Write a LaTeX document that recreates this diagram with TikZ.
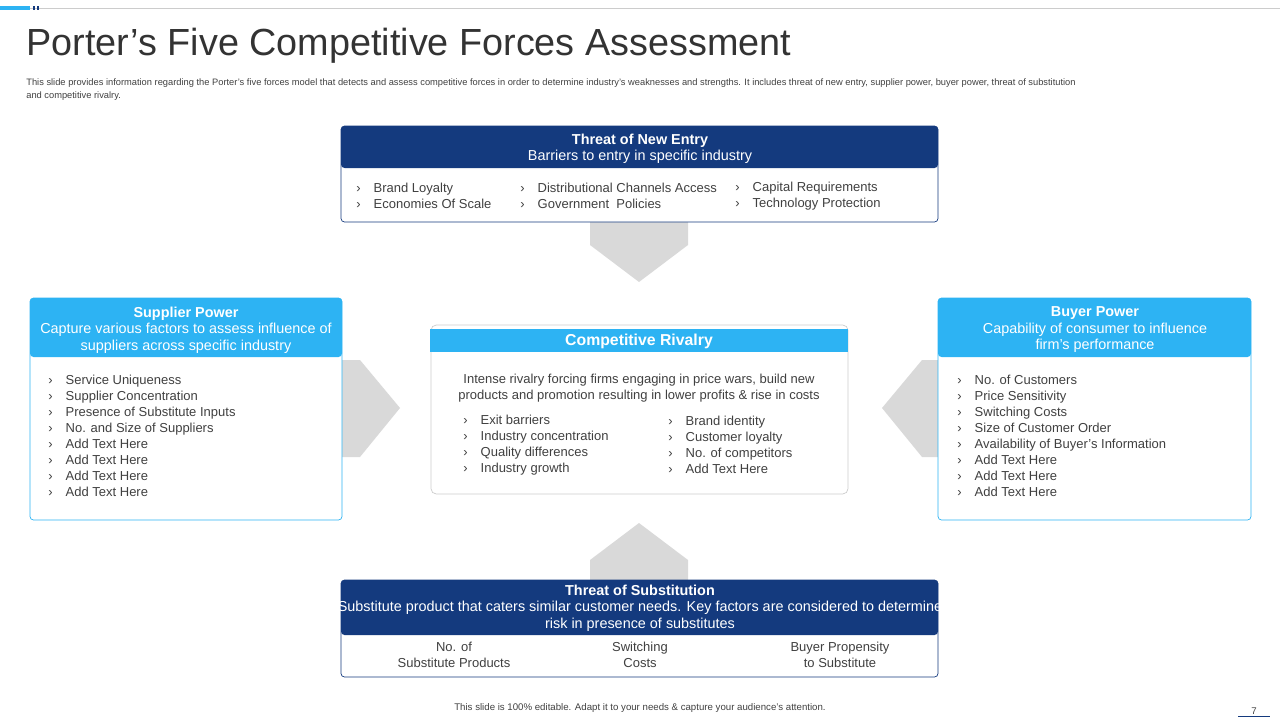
\documentclass[tikz,border=0pt]{standalone}
\usepackage{fontspec}
\setmainfont{Liberation Sans}
\definecolor{navy}{HTML}{143A7E}
\definecolor{sky}{HTML}{2DB3F3}
\definecolor{chev}{HTML}{D9D9D9}
\definecolor{txt}{HTML}{404040}
\begin{document}
\begin{tikzpicture}
	[x=0.02cm,y=-0.02cm,
	hdr/.style={font=\fontsize{8.2}{9.4}\selectfont\color{white},align=center},
	item/.style={anchor=west,font=\fontsize{7.4}{9.1}\selectfont\color{txt},align=left,inner sep=0pt},
	chevron/.style={fill=chev,draw=none}
	]
	\useasboundingbox (0,0) rectangle (1280,720);
	% top line and page number
	\draw[gray!40] (0,8) -- (1280,8);
	\fill[sky] (0,6) rectangle (30,10);
	\fill[navy] (33,6) rectangle (35,10);
	\fill[navy] (37,6) rectangle (39,10);
	\node[font=\fontsize{5.5}{6}\selectfont\color{txt}] (pg) at (1254,711) {7};
	\draw[navy] (1238,716) -- (1270,716);
	% title
	\node[anchor=west,inner sep=0pt,font=\fontsize{21.5}{24}\selectfont\color{black!80}] (title) at (26,46) {Porter’s Five Competitive Forces Assessment};
	\node[anchor=north west,inner sep=0pt,align=left,font=\fontsize{5.3}{7.8}\selectfont\color{txt}] (sub) at (26,78)
	{This slide provides information regarding the Porter’s five forces model that detects and assess competitive forces in order to determine industry’s weaknesses and strengths. It includes threat of new entry, supplier power, buyer power, threat of substitution\\and competitive rivalry.};
	\node[font=\fontsize{5.5}{6}\selectfont\color{txt}] (foot) at (640,708) {This slide is 100\% editable. Adapt it to your needs \& capture your audience’s attention.};

	% chevrons
	\fill[chevron] (590,222) -- (688,222) -- (688,245) -- (639,282) -- (590,245) -- cycle;
	\fill[chevron] (590,580) -- (688,580) -- (688,560) -- (639,523) -- (590,560) -- cycle;
	\fill[chevron] (342,360) -- (360,360) -- (400,408) -- (360,457) -- (342,457) -- cycle;
	\fill[chevron] (938,360) -- (922,360) -- (882,408) -- (922,457) -- (938,457) -- cycle;

	% threat of new entry
	\fill[white,draw=navy,rounded corners=2pt] (341,126) rectangle (938,222);
	\fill[navy,rounded corners=2pt] (341,126) rectangle (938,168);
	\node[hdr] (entry) at (640,149) {\textbf{Threat of New Entry}\\Barriers to entry in specific industry};
	\node[item] (e1) at (356,196) {›\quad Brand Loyalty\\›\quad Economies Of Scale};
	\node[item] (e2) at (520,196) {›\quad Distributional Channels Access\\›\quad Government\ \ Policies};
	\node[item] (e3) at (735,196) {›\quad Capital Requirements\\›\quad Technology Protection};

	% supplier power
	\fill[white,draw=sky,rounded corners=2pt] (30,298) rectangle (342,520);
	\fill[sky,rounded corners=2pt] (30,298) rectangle (342,357);
	\node[hdr] (supplier) at (186,330) {\textbf{Supplier Power}\\Capture various factors to assess influence of\\suppliers across specific industry};
	\node[item] (s1) at (48,436) {›\quad Service Uniqueness\\›\quad Supplier Concentration\\›\quad Presence of Substitute Inputs\\›\quad No. and Size of Suppliers\\›\quad Add Text Here\\›\quad Add Text Here\\›\quad Add Text Here\\›\quad Add Text Here};

	% buyer power
	\fill[white,draw=sky,rounded corners=2pt] (938,298) rectangle (1251,520);
	\fill[sky,rounded corners=2pt] (938,298) rectangle (1251,357);
	\node[hdr] (buyer) at (1095,330) {\textbf{Buyer Power}\\Capability of consumer to influence\\firm’s performance};
	\node[item] (b1) at (957,436) {›\quad No. of Customers\\›\quad Price Sensitivity\\›\quad Switching Costs\\›\quad Size of Customer Order\\›\quad Availability of Buyer’s Information\\›\quad Add Text Here\\›\quad Add Text Here\\›\quad Add Text Here};

	% competitive rivalry
	\fill[white,draw=gray!40,rounded corners=3pt] (431,325) rectangle (848,494);
	\fill[sky] (430,329) rectangle (848,352);
	\node[font=\fontsize{9}{10}\selectfont\bfseries\color{white}] (rivalry) at (639,341) {Competitive Rivalry};
	\node[font=\fontsize{7.4}{9.1}\selectfont\color{txt},align=center] (rdesc) at (639,388) {Intense rivalry forcing firms engaging in price wars, build new\\products and promotion resulting in lower profits \& rise in costs};
	\node[item] (r1) at (463,445) {›\quad Exit barriers\\›\quad Industry concentration\\›\quad Quality differences\\›\quad Industry growth};
	\node[item] (r2) at (668,445) {›\quad Brand identity\\›\quad Customer loyalty\\›\quad No. of competitors\\›\quad Add Text Here};

	% threat of substitution
	\fill[white,draw=navy,rounded corners=2pt] (341,580) rectangle (938,677);
	\fill[navy,rounded corners=2pt] (341,580) rectangle (938,635);
	\node[hdr] (subst) at (640,608) {\textbf{Threat of Substitution}\\Substitute product that caters similar customer needs. Key factors are considered to determine\\risk in presence of substitutes};
	\node[font=\fontsize{7.4}{9.1}\selectfont\color{txt},align=center] (t1) at (454,655) {No. of\\Substitute Products};
	\node[font=\fontsize{7.4}{9.1}\selectfont\color{txt},align=center] (t2) at (640,655) {Switching\\Costs};
	\node[font=\fontsize{7.4}{9.1}\selectfont\color{txt},align=center] (t3) at (840,655) {Buyer Propensity\\to Substitute};
\end{tikzpicture}
\end{document}
